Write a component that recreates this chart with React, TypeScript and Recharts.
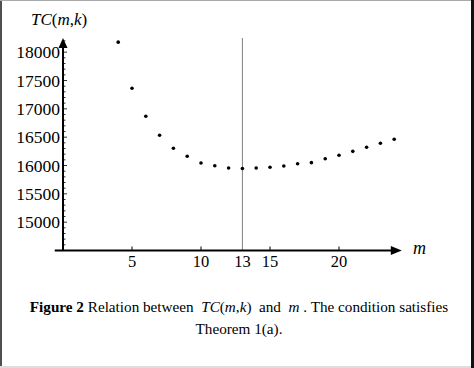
import React from "react";
import { ScatterChart, Scatter, XAxis, YAxis, ReferenceLine, ReferenceDot } from "recharts";

const mValues = [4, 5, 6, 7, 8, 9, 10, 11, 12, 13, 14, 15, 16, 17, 18, 19, 20, 21, 22, 23, 24];
const tcValues = [18177, 17364, 16869, 16533, 16304, 16162, 16045, 15995, 15955, 15948, 15955, 15968, 15990, 16030, 16050, 16120, 16180, 16250, 16321, 16392, 16463];
const xTicks = [5, 10, 13, 15, 20];
const yMajorTicks = [15000, 15500, 16000, 16500, 17000, 17500, 18000];
const yAllTicks = Array.from({ length: 37 }, (_, i) => 14600 + i * 100);
const optimalM = 13;

const data = mValues.map((m, i) => ({ m, tc: tcValues[i] }));

const FONT = "'Liberation Serif', 'Times New Roman', serif";

const XTick = (props: any) => {
  const { x, y, payload } = props;
  const v = payload.value;
  return (
    <g>
      {v !== optimalM && <line x1={x} x2={x} y1={y - 2} y2={y - 6} stroke="#000" strokeWidth={1} />}
      <text x={x} y={y + 14} textAnchor="middle" style={{ fontFamily: FONT, fontSize: 16.5 }} fill="#000">
        {v}
      </text>
    </g>
  );
};

const YTick = (props: any) => {
  const { x, y, payload } = props;
  const v = payload.value;
  const major = yMajorTicks.includes(v);
  const ax = x + 2;
  return (
    <g>
      <line x1={ax} x2={ax + (major ? 4 : 2.5)} y1={y} y2={y} stroke="#000" strokeWidth={0.8} />
      {major && (
        <text x={x - 1} y={y + 6} textAnchor="end" style={{ fontFamily: FONT, fontSize: 17.5 }} fill="#000">
          {v}
        </text>
      )}
    </g>
  );
};

const Dot = (props: any) => <circle cx={props.cx} cy={props.cy} r={1.8} fill="#000" />;

const UpArrow = (props: any) => (
  <polygon points={`${props.cx},${props.cy} ${props.cx - 4.5},${props.cy + 10} ${props.cx + 4.5},${props.cy + 10}`} fill="#000" />
);
const RightArrow = (props: any) => (
  <polygon points={`${props.cx},${props.cy} ${props.cx - 11},${props.cy - 4.5} ${props.cx - 11},${props.cy + 4.5}`} fill="#000" />
);

export default function App() {
  return (
    <div style={{ position: "absolute", left: 0, top: 0, width: 474, height: 368, background: "#fff", overflow: "hidden" }}>
      <div style={{ position: "absolute", left: 0, top: 0, width: 2, height: 368, background: "#505050" }} />
      <div style={{ position: "absolute", left: 0, top: 0, width: 474, height: 1, background: "#aaa" }} />
      <div style={{ position: "absolute", left: 471, top: 0, width: 3, height: 368, background: "#111" }} />
      <div style={{ position: "absolute", left: 0, top: 366, width: 471, height: 2, background: "#ddd" }} />
      <div style={{ position: "absolute", left: 0, top: 0 }}>
        <ScatterChart width={474} height={368} margin={{ top: 38, right: 66, bottom: 92.5, left: 8 }}>
          <XAxis
            type="number"
            dataKey="m"
            domain={[0, 25]}
            ticks={xTicks}
            interval={0}
            axisLine={false}
            tickLine={false}
            tickSize={0}
            tickMargin={2}
            height={25}
            tick={<XTick />}
            allowDataOverflow
          />
          <YAxis
            type="number"
            dataKey="tc"
            domain={[14500, 18250]}
            ticks={yAllTicks}
            interval={0}
            axisLine={false}
            tickLine={false}
            tickSize={0}
            tickMargin={2}
            width={55}
            tick={<YTick />}
            allowDataOverflow
          />
          <ReferenceLine x={optimalM} stroke="#808080" strokeWidth={1} />
          <ReferenceLine
            segment={[{ x: -0.6, y: 14500 }, { x: 24.0, y: 14500 }]}
            stroke="#000"
            strokeWidth={2}
            ifOverflow="visible"
          />
          <ReferenceLine
            segment={[{ x: 0, y: 14500 }, { x: 0, y: 18100 }]}
            stroke="#000"
            strokeWidth={2}
            ifOverflow="visible"
          />
          <ReferenceDot x={0} y={18250} ifOverflow="visible" shape={<UpArrow />} />
          <ReferenceDot x={24.55} y={14500} ifOverflow="visible" shape={<RightArrow />} />
          <Scatter data={data} shape={<Dot />} isAnimationActive={false} />
        </ScatterChart>
      </div>
      <div style={{ position: "absolute", left: 31, top: 10, fontFamily: FONT, fontSize: 17, whiteSpace: "nowrap", lineHeight: "20px" }}>
        <i>TC</i>(<i>m</i>,<i>k</i>)
      </div>
      <div style={{ position: "absolute", left: 413, top: 238, fontFamily: FONT, fontSize: 18, fontStyle: "italic", lineHeight: "20px" }}>
        m
      </div>
      <div
        style={{
          position: "absolute",
          left: 0,
          top: 296,
          width: 478,
          textAlign: "center",
          fontFamily: FONT,
          fontSize: 15.2,
          lineHeight: "22px",
          color: "#000",
        }}
      >
        <div>
          <b>Figure 2</b> Relation between&nbsp; <i>TC</i>(<i>m</i>,<i>k</i>)&nbsp; and&nbsp; <i>m</i> . The condition satisfies
        </div>
        <div>Theorem 1(a).</div>
      </div>
    </div>
  );
}
